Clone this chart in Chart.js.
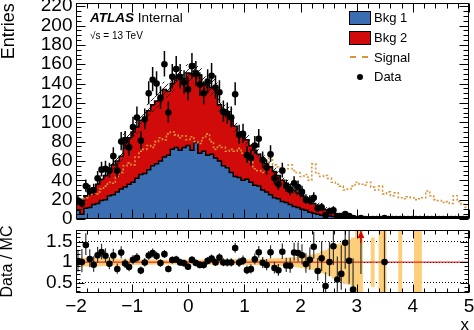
<!DOCTYPE html>
<html>
<head>
<meta charset="utf-8">
<title>Stack plot with Data / MC ratio</title>
<script src="https://cdn.jsdelivr.net/npm/chart.js@4.4.1/dist/chart.umd.min.js"></script>
<style>
  body { margin: 0; background: #fff; }
  #plot { position: relative; width: 474px; height: 330px; overflow: hidden; font-family: "Liberation Sans", Arial, sans-serif; color: #000; }
  #plot canvas { position: absolute; left: 0; }
  #mainCanvas { top: 0; }
  #ratioCanvas { top: 226px; }
  .txt { position: absolute; white-space: nowrap; line-height: 1; }
  .atlas { left: 90px; top: 11.4px; font-size: 13.5px; }
  .atlas b { font-style: italic; }
  .energy { left: 90px; top: 31px; font-size: 10px; }
  .leg { left: 374px; font-size: 13px; }
  .box { position: absolute; left: 349px; width: 20px; height: 12px; border: 1px solid #000; }
  .dash { position: absolute; left: 350px; top: 56px; width: 18px; border-top: 2px dashed #d9953a; }
  .dot { position: absolute; left: 357px; top: 74px; width: 6px; height: 6px; border-radius: 50%; background: #000; }
</style>
</head>
<body>
<div id="plot">
  <canvas id="mainCanvas" width="474" height="232"></canvas>
  <canvas id="ratioCanvas" width="474" height="104"></canvas>
  <div class="txt atlas"><b>ATLAS</b> Internal</div>
  <div class="txt energy">√s = 13 TeV</div>
  <div class="box" style="top:11px; background:#3a6eb0"></div>
  <div class="box" style="top:31px; background:#d10a0a"></div>
  <div class="dash"></div>
  <div class="dot"></div>
  <div class="txt leg" id="leg0" style="top:11.2px"></div>
  <div class="txt leg" id="leg1" style="top:31.2px"></div>
  <div class="txt leg" id="leg2" style="top:51.2px"></div>
  <div class="txt leg" id="leg3" style="top:70.2px"></div>
</div>
<script>
// binning: 100 bins from -2 to 5
const xLo = -2, xHi = 5, nBins = 100;

const bkg1 = [9,5,11,12,15,16,19,20,24,25,
  28,31,33,36,38,42,46,47,51,55,
  57,60,64,66,72,74,71,74,76,71,
  79,68,70,66,67,63,60,55,53,48,
  44,43,40,41,38,35,34,30,28,25,
  22,21,18,17,15,13,12,10,9,7,
  6,5,4,3.5,3,2.5,2,1.6,1.2,1.1,
  1.1,0.5,0.1,0,0,0.2,0,0.2,0.4,0,
  0,0,0.1,0,0,0,0.1,0.1,0,0,
  0,0,0,0,0,0,0,0,0,0];

const bkg2 = [10,11,13,15,17,20,22,25,28,31,
  32,34,51,48,52,53,56,57,61,63,
  65,68,70,66,68,72,77,71,75,79,
  74,81,70,72,69,74,58,57,57,58,
  52,45,45,41,38,36,33,32,29,29,
  27,24,22,20,18,17,15,14,12,11,
  10,9,7,6,5,4,3.2,2.6,2.2,1.8,
  1.9,0.9,0.14,0,0,0.3,0,0.2,0.6,0,
  0,0,0.2,0,0,0,0.1,0.1,0,0,
  0,0,0,0,0,0,0,0,0,0];

// stat. uncertainty of the total background
const mcErr = [2.1,1.8,2.6,2.9,3.3,3.6,4.0,4.2,4.7,4.9,
  5.0,5.2,6.0,6.0,6.3,6.5,6.6,6.7,7.0,7.3,
  7.4,7.7,8.0,7.9,8.3,8.6,8.7,8.6,8.9,8.9,
  9.0,8.9,8.5,8.4,8.3,8.4,7.4,7.1,7.0,6.9,
  6.4,6.0,5.9,5.8,5.5,5.2,5.1,5.0,4.8,4.8,
  4.6,4.4,4.1,4.0,3.8,3.6,3.5,3.5,3.4,3.2,
  3.1,3.0,2.9,2.8,2.7,2.6,2.3,2.0,1.8,1.6,
  1.8,1.4,0.3,0,0,0.3,0,0.4,0.9,0,
  0,0,0.3,0,0,0,0.2,0.2,0,0,
  0,0,0,0,0,0,0,0,0,0];

const signal = [20,18,22,24,27,26,31,34,38,37,
  44,48,55,58,56,64,70,72,76,74,
  80,84,82,88,90,87,84,86,82,85,
  80,78,84,88,80,72,76,74,70,72,
  70,73,68,66,60,52,50,48,55,64,
  56,54,50,52,56,50,48,44,46,40,
  57,47,44,45,42,38,36,34,30,31,
  34,38,36,35,38,33,30,34,26,28,
  24,27,22,21,23,22,20,21,22,29,
  24,20,19,17,18,16,24,18,15,12];

const dataCounts = [19,16,34,29,30,42,51,52,50,65,
  50,80,81,74,95,105,81,103,130,144,
  140,125,160,110,147,155,147,141,134,158,
  150,139,130,142,148,136,131,111,109,105,
  129,87,88,66,63,76,83,61,53,67,
  42,36,50,34,30,37,33,28,20,19,
  22,11,12,4,8,9,3,3,5,3,
  1,0,1,0,0,0,0,0,1,0,
  0,0,0,0,0,0,0,0,0,0,
  0,0,0,0,0,0,0,0,0,0];

const xTicks = [-2, -1, 0, 1, 2, 3, 4, 5];
const yMainTicks = [0, 20, 40, 60, 80, 100, 120, 140, 160, 180, 200, 220];
const yRatioTicks = [0.5, 1, 1.5];
const legendLabels = ['Bkg 1', 'Bkg 2', 'Signal', 'Data'];

legendLabels.forEach((t, i) => { document.getElementById('leg' + i).textContent = t; });

const binW = (xHi - xLo) / nBins;
const edges = Array.from({length: nBins + 1}, (_, i) => xLo + i * binW);
const centers = edges.slice(0, nBins).map(e => e + binW / 2);
const total = bkg1.map((v, i) => v + bkg2[i]);

// histogram outline for stepped lines
function steps(vals) {
  const pts = vals.map((v, i) => ({x: edges[i], y: v}));
  pts.push({x: edges[nBins], y: vals[nBins - 1]});
  return pts;
}

// poisson 68% interval (Wilson-Hilferty)
function poisLo(n) {
  if (n <= 0) return 0;
  const a = 1 - 1 / (9 * n) - 1 / (3 * Math.sqrt(n));
  return n - n * a * a * a;
}
function poisHi(n) {
  const m = n + 1;
  const a = 1 - 1 / (9 * m) + 1 / (3 * Math.sqrt(m));
  return m * a * a * a - n;
}

Chart.defaults.font.family = '"Liberation Sans", Arial, sans-serif';
Chart.defaults.color = '#000';

const frameTicks = {
  id: 'frameTicks',
  afterDatasetsDraw(chart, args, o) {
    const {ctx, chartArea: a, scales: {x, y}} = chart;
    ctx.save();
    ctx.strokeStyle = '#000';
    ctx.lineWidth = 1;
    const L = Math.round(a.left) + 0.5, R = Math.round(a.right) - 0.5;
    const T = Math.round(a.top) + 0.5, B = Math.round(a.bottom) - 0.5;
    ctx.strokeRect(L, T, R - L, B - T);
    ctx.beginPath();
    const k0 = Math.ceil(x.min / o.xMinor - 1e-6), k1 = Math.floor(x.max / o.xMinor + 1e-6);
    for (let k = k0; k <= k1; k++) {
      const v = k * o.xMinor;
      const len = Math.abs(v / o.xMajor - Math.round(v / o.xMajor)) < 1e-6 ? o.major : o.minor;
      const px = Math.round(x.getPixelForValue(v)) + 0.5;
      ctx.moveTo(px, B); ctx.lineTo(px, B - len);
      ctx.moveTo(px, T); ctx.lineTo(px, T + len);
    }
    const j0 = Math.ceil(y.min / o.yMinor - 1e-6), j1 = Math.floor(y.max / o.yMinor + 1e-6);
    for (let j = j0; j <= j1; j++) {
      const v = j * o.yMinor;
      const len = Math.abs(v / o.yMajor - Math.round(v / o.yMajor)) < 1e-6 ? o.major : o.minor;
      const py = Math.round(y.getPixelForValue(v)) + 0.5;
      ctx.moveTo(L, py); ctx.lineTo(L + len, py);
      ctx.moveTo(R, py); ctx.lineTo(R - len, py);
    }
    ctx.stroke();
    ctx.restore();
  }
};

const errorBars = {
  id: 'errorBars',
  beforeDatasetDraw(chart, args) {
    const ds = chart.data.datasets[args.index];
    if (!ds.errLo) return;
    const {ctx, chartArea: a} = chart;
    const y = chart.scales.y;
    ctx.save();
    ctx.beginPath();
    ctx.rect(a.left, a.top, a.width, a.height);
    ctx.clip();
    ctx.strokeStyle = ds.errColor;
    ctx.lineWidth = ds.errWidth;
    ctx.beginPath();
    args.meta.data.forEach((pt, i) => {
      const raw = ds.data[i];
      if (raw.y == null) return;
      ctx.moveTo(pt.x, y.getPixelForValue(raw.y - ds.errLo[i]));
      ctx.lineTo(pt.x, y.getPixelForValue(raw.y + ds.errHi[i]));
    });
    ctx.stroke();
    // arrows for points above the range
    if (ds.arrows) {
      ctx.fillStyle = '#e00000';
      ctx.strokeStyle = '#e00000';
      ctx.lineWidth = 1.5;
      ds.arrows.forEach(i => {
        const px = chart.scales.x.getPixelForValue(centers[i]);
        ctx.beginPath();
        ctx.moveTo(px, a.top + 7); ctx.lineTo(px, a.top + 13);
        ctx.stroke();
        ctx.beginPath();
        ctx.moveTo(px, a.top + 1);
        ctx.lineTo(px - 3.5, a.top + 8);
        ctx.lineTo(px + 3.5, a.top + 8);
        ctx.closePath();
        ctx.fill();
      });
    }
    ctx.restore();
  }
};

function noPad(s) { s.paddingTop = 0; s.paddingBottom = 0; s.paddingLeft = 0; s.paddingRight = 0; }

// hatch pattern for the uncertainty band
const hc = document.createElement('canvas');
hc.width = 6; hc.height = 6;
const hg = hc.getContext('2d');
hg.strokeStyle = 'rgba(0,0,0,0.85)';
hg.lineWidth = 1;
hg.beginPath();
hg.moveTo(0, 6); hg.lineTo(6, 0);
hg.moveTo(-1, 1); hg.lineTo(1, -1);
hg.moveTo(5, 7); hg.lineTo(7, 5);
hg.stroke();
const hatch = hg.createPattern(hc, 'repeat');

const blue = '#3a6eb0', red = '#d10a0a', orange = '#d9953a', bandColor = '#fecf7a';

const mainCfg = {
  type: 'line',
  data: {
    datasets: [
      {label: 'Data', data: centers.map((c, i) => ({x: c, y: dataCounts[i]})), showLine: false,
        pointRadius: 3.3, pointHoverRadius: 3.3, pointBackgroundColor: '#000', pointBorderWidth: 0, borderColor: '#000',
        errLo: dataCounts.map(poisLo), errHi: dataCounts.map(poisHi), errColor: '#000', errWidth: 1.5, clip: 0, order: 0},
      {label: 'Signal', data: steps(signal), stepped: true, borderColor: orange, borderDash: [2, 2], borderWidth: 1.6,
        pointRadius: 0, fill: false, order: 1},
      {label: 'uncUp', data: steps(total.map((v, i) => v + mcErr[i])), stepped: true, borderWidth: 0,
        pointRadius: 0, fill: {target: 3}, backgroundColor: hatch, order: 2},
      {label: 'uncDown', data: steps(total.map((v, i) => Math.max(v - mcErr[i], 0))), stepped: true, borderWidth: 0,
        pointRadius: 0, fill: false, order: 3},
      {label: 'Bkg 1', data: steps(bkg1), stepped: true, borderColor: '#000', borderWidth: 1.5,
        backgroundColor: blue, fill: 'origin', pointRadius: 0, order: 4},
      {label: 'Bkg 2', data: steps(total), stepped: true, borderColor: '#000', borderWidth: 1.5,
        backgroundColor: red, fill: 'origin', pointRadius: 0, order: 5}
    ]
  },
  options: {
    responsive: false, animation: false, events: [],
    layout: {padding: {left: 0, right: 5, top: 2, bottom: 13}},
    plugins: {
      legend: {display: false}, tooltip: {enabled: false},
      frameTicks: {xMajor: 1, xMinor: 0.2, yMajor: 20, yMinor: 5, major: 9, minor: 5}
    },
    scales: {
      x: {type: 'linear', min: xLo, max: xHi, ticks: {display: false}, grid: {display: false}, border: {display: false},
        afterFit(s) { s.height = 0; noPad(s); }},
      y: {type: 'linear', min: 0, max: 223,
        afterBuildTicks(s) { s.ticks = yMainTicks.map(v => ({value: v})); },
        ticks: {autoSkip: false, padding: 3.5, font: {size: 19, lineHeight: 1}, callback: v => String(v)},
        grid: {display: false, drawTicks: false}, border: {display: false},
        title: {display: true, text: 'Entries', align: 'end', font: {size: 18, lineHeight: 1}, padding: {top: 0, bottom: 0}},
        afterFit(s) { s.width = 76; noPad(s); }}
    }
  },
  plugins: [frameTicks, errorBars]
};

// ratio panel
const ratio = dataCounts.map((d, i) => (d > 0 && total[i] > 0 ? d / total[i] : null));
const rMin = 0.25, rMax = 1.78;
const arrows = [];
ratio.forEach((r, i) => { if (r != null && r > rMax) arrows.push(i); });

const ratioCfg = {
  type: 'line',
  data: {
    datasets: [
      {label: 'Data / MC', data: centers.map((c, i) => ({x: c, y: ratio[i]})), showLine: false,
        pointRadius: 3.3, pointHoverRadius: 3.3, pointBackgroundColor: '#000', pointBorderWidth: 0, borderColor: '#000',
        errLo: dataCounts.map((d, i) => (total[i] > 0 ? poisLo(d) / total[i] : 0)),
        errHi: dataCounts.map((d, i) => (total[i] > 0 ? poisHi(d) / total[i] : 0)),
        errColor: '#333', errWidth: 1.2, arrows: arrows, clip: 0, order: 0},
      {label: 'one', data: [{x: xLo, y: 1}, {x: xHi, y: 1}], borderColor: '#e00000', borderWidth: 1,
        pointRadius: 0, fill: false, order: 1},
      {label: 'bandUp', data: steps(total.map((v, i) => (v > 0 ? 1 + mcErr[i] / v : 1))), stepped: true, borderWidth: 0,
        pointRadius: 0, fill: {target: 3}, backgroundColor: bandColor, order: 2},
      {label: 'bandDown', data: steps(total.map((v, i) => (v > 0 ? 1 - mcErr[i] / v : 1))), stepped: true, borderWidth: 0,
        pointRadius: 0, fill: false, order: 3}
    ]
  },
  options: {
    responsive: false, animation: false, events: [],
    layout: {padding: {left: 0, right: 5, top: 4, bottom: 0}},
    plugins: {
      legend: {display: false}, tooltip: {enabled: false},
      frameTicks: {xMajor: 1, xMinor: 0.2, yMajor: 0.5, yMinor: 0.1, major: 8, minor: 4}
    },
    scales: {
      x: {type: 'linear', min: xLo, max: xHi,
        afterBuildTicks(s) { s.ticks = xTicks.map(v => ({value: v})); },
        ticks: {autoSkip: false, maxRotation: 0, padding: 4, font: {size: 19, lineHeight: 1},
          callback: v => String(v).replace('-', '\u2212')},
        grid: {display: false, drawTicks: false}, border: {display: false},
        title: {display: true, text: 'x', align: 'end', font: {size: 17, lineHeight: 1}, padding: {top: 0, bottom: -4}},
        afterFit(s) { s.height = 37; noPad(s); }},
      y: {type: 'linear', min: rMin, max: rMax,
        afterBuildTicks(s) { s.ticks = yRatioTicks.map(v => ({value: v})); },
        ticks: {autoSkip: false, padding: 3.5, font: {size: 19, lineHeight: 1}, callback: v => String(v)},
        grid: {display: true, drawTicks: false, color: '#000', lineWidth: 1}, border: {display: false, dash: [1, 2]},
        title: {display: true, text: 'Data / MC', font: {size: 16, lineHeight: 1}, padding: {top: 0, bottom: 0}},
        afterFit(s) { s.width = 76; noPad(s); }}
    }
  },
  plugins: [frameTicks, errorBars]
};

new Chart(document.getElementById('mainCanvas'), mainCfg);
new Chart(document.getElementById('ratioCanvas'), ratioCfg);
</script>
</body>
</html>
